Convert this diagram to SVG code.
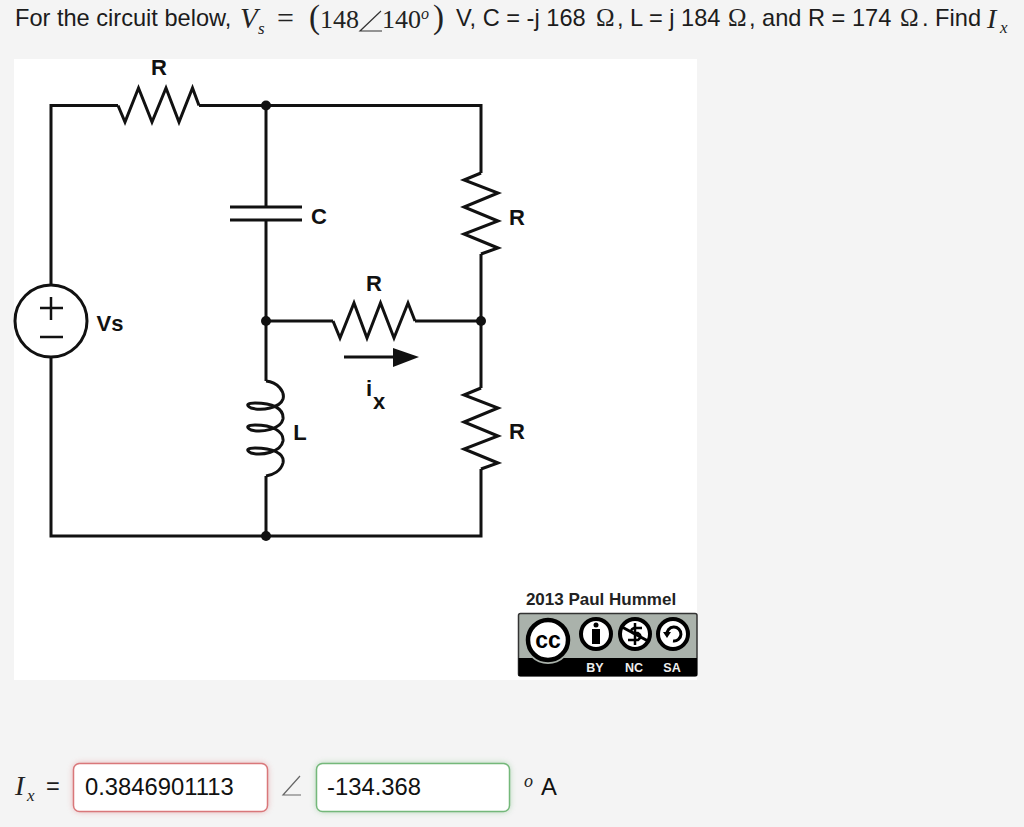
<svg xmlns="http://www.w3.org/2000/svg" width="1024" height="827" viewBox="0 0 1024 827">
<defs>
<style>
.w{fill:none;stroke:#111;stroke-width:3;stroke-linejoin:miter}
.d{fill:#111}
.l{font-family:"Liberation Sans",Arial,sans-serif;font-weight:bold;font-size:22px;fill:#111;text-anchor:middle}
.t{font-family:"Liberation Sans",Arial,sans-serif;font-size:23.6px;fill:#1c1c1c}
.m{font-family:"Liberation Serif","Times New Roman",serif;font-size:26px;fill:#222}
.i{font-style:italic}
.v{font-family:"Liberation Sans",Arial,sans-serif;font-size:23.800px;fill:#111}
.b{font-family:"Liberation Sans",Arial,sans-serif;font-weight:bold;font-size:12.500px;fill:#eee;text-anchor:middle}
</style>
<filter id="glow" x="-10%" y="-30%" width="120%" height="160%"><feGaussianBlur stdDeviation="3"/></filter>
</defs>
<rect width="1024" height="827" fill="#f4f4f4"/>
<rect x="14" y="59" width="683" height="621" fill="#fff"/>

<g id="question">
<text class="t" x="15" y="26">For the circuit below,</text>
<text class="m i" x="240" y="28" style="font-size:29px">V</text>
<text class="m i" x="258" y="34" style="font-size:17px">s</text>
<text class="m" x="277" y="28" style="font-size:30px">=</text>
<text class="m" x="309" y="28" style="font-size:33px">(</text>
<text class="m" x="320" y="28" style="font-size:26px">148</text>
<path d="M381 11 L360 31 H382" fill="none" stroke="#333" stroke-width="1.200"/>
<text class="m" x="382" y="28" style="font-size:26px">140</text>
<text class="m i" x="421" y="19" style="font-size:16px">o</text>
<text class="m" x="433" y="28" style="font-size:33px">)</text>
<text class="t" x="456" y="26">V, C = -j 168</text>
<text class="m" x="596" y="26" style="font-size:25px">Ω</text>
<text class="t" x="617" y="26">, L = j 184</text>
<text class="m" x="728" y="26" style="font-size:25px">Ω</text>
<text class="t" x="749" y="26">, and R = 174</text>
<text class="m" x="900" y="26" style="font-size:25px">Ω</text>
<text class="t" x="922" y="26">. Find</text>
<text class="m i" x="987" y="28" style="font-size:28px">I</text>
<text class="m i" x="1000" y="33" style="font-size:17px">x</text>
</g>

<g id="connectors">
<path class="w" d="M51 285V105.500H118"/>
<path class="w" d="M199 105.500H481V173"/>
<path class="w" d="M266 105.500V207"/>
<path class="w" d="M266 220V381"/>
<path class="w" d="M266 321H333"/>
<path class="w" d="M415 321H481"/>
<path class="w" d="M481 254V388"/>
<path class="w" d="M481 469V536H51V357"/>
<path class="w" d="M266 476V536"/>
</g>

<g id="junctions">
<circle class="d" cx="266" cy="105.500" r="5"/>
<circle class="d" cx="266" cy="321" r="5"/>
<circle class="d" cx="481" cy="321" r="5"/>
<circle class="d" cx="266" cy="536" r="5"/>
</g>

<g id="source-vs">
<circle class="w" cx="51" cy="321" r="36"/>
<path class="w" d="M40 308H63M51 297V320M40 337H63" style="stroke-width:2.500"/>
<text class="l" x="110" y="331">Vs</text>
</g>

<g id="resistor-top">
<path class="w" d="M118 105.500L125 122L138.500 88L152 122L166 88L179 122L192.500 88L199 105.500"/>
<text class="l" x="159" y="75">R</text>
</g>

<g id="capacitor">
<path class="w" d="M230 207H302M230 220H302"/>
<text class="l" x="319" y="224">C</text>
</g>

<g id="resistor-right-top">
<path class="w" d="M481 173L464 180L498 193L464 207L498 221L464 234L498 248L481 254"/>
<text class="l" x="517" y="225">R</text>
</g>

<g id="resistor-middle">
<path class="w" d="M333 321L340 338L354 303L367 338L380.500 303L394 338L408 303L415 321"/>
<text class="l" x="374" y="291">R</text>
</g>

<g id="resistor-right-bottom">
<path class="w" d="M481 388L464 395L498 408L464 422L498 436L464 449L498 463L481 469"/>
<text class="l" x="517" y="439">R</text>
</g>

<g id="current-ix">
<path class="w" d="M344 357H394"/>
<path class="d" d="M393 348L419 357L393 367Z"/>
<text class="l" x="369" y="396">i</text>
<text class="l" x="379" y="409">x</text>
</g>

<g id="inductor">
<path class="w" d="M266 381C278 382 285 392 283 399C280 408 262 411 251 408C245 405 248 403 255 403C272 403 284 408 283 419C281 429 262 433 251 430C245 427 248 425 255 425C272 425 284 431 283 441C281 452 262 456 251 453C245 450 248 448 255 448C272 448 285 453 283 463C281 471 273 475 266 476"/>
<text class="l" x="300" y="440">L</text>
</g>

<g id="license">
<text x="601" y="605" font-family="'Liberation Sans',Arial,sans-serif" font-weight="bold" font-size="17" text-anchor="middle" fill="#222">2013 Paul Hummel</text>
<rect x="518.500" y="613.500" width="178.500" height="62.500" rx="2" fill="#aab2ab" stroke="#333" stroke-width="1.500"/>
<rect x="518.500" y="658" width="178.500" height="18" fill="#000"/>
<circle cx="548" cy="640" r="24" fill="#aab2ab"/>
<circle cx="548" cy="640" r="20" fill="#fff" stroke="#000" stroke-width="4.500"/>
<text x="548" y="648" font-family="'Liberation Sans',Arial,sans-serif" font-weight="bold" font-size="23" text-anchor="middle" fill="#000">cc</text>
<circle cx="596" cy="634" r="15" fill="#fff" stroke="#000" stroke-width="4"/>
<circle cx="596" cy="625" r="2.500" fill="#000"/>
<rect x="592" y="629" width="8" height="15" fill="#000"/>
<circle cx="635" cy="634" r="15" fill="#fff" stroke="#000" stroke-width="4"/>
<path d="M622 627L648 641" stroke="#000" stroke-width="3" fill="none"/>
<path d="M642 628H634Q629 630 633 633H638Q643 636 638 640H628M635 623V645" stroke="#000" stroke-width="2.500" fill="none"/>
<circle cx="673" cy="634" r="15" fill="#fff" stroke="#000" stroke-width="4"/>
<path d="M667 635A7 7 0 1 1 673 641" stroke="#000" stroke-width="3" fill="none"/>
<path d="M663 632H671L667 638Z" fill="#000"/>
<text class="b" x="595" y="672">BY</text>
<text class="b" x="634" y="672">NC</text>
<text class="b" x="672" y="672">SA</text>
</g>

<g id="answer">
<text class="m i" x="15" y="795" style="font-size:28px">I</text>
<text class="m i" x="27" y="801" style="font-size:17px">x</text>
<text class="t" x="46" y="794">=</text>
<rect x="73.500" y="763.500" width="194" height="48" rx="6" fill="#d9777a" opacity=".6" filter="url(#glow)"/>
<rect x="73.500" y="763.500" width="194" height="48" rx="6" fill="#fff" stroke="#d9777a" stroke-width="1.500"/>
<text class="v" x="85" y="795">0.3846901113</text>
<path d="M300 776L283 795H301" fill="none" stroke="#666" stroke-width="1.200"/>
<rect x="316.500" y="763.500" width="193" height="48" rx="6" fill="#74b87a" opacity=".6" filter="url(#glow)"/>
<rect x="316.500" y="763.500" width="193" height="48" rx="6" fill="#fff" stroke="#74b87a" stroke-width="1.500"/>
<text class="v" x="327" y="795">-134.368</text>
<text class="m i" x="524" y="787" style="font-size:18px">o</text>
<text class="v" x="541" y="795">A</text>
</g>
</svg>
